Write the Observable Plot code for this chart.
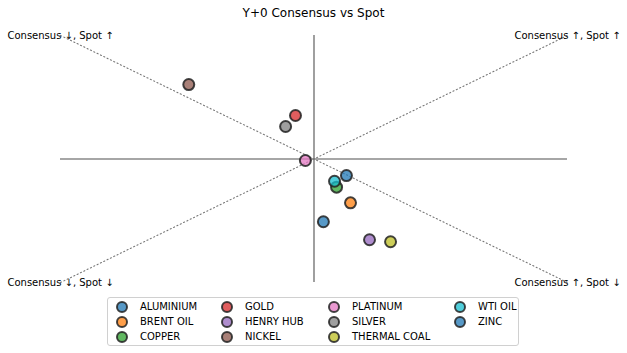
<!DOCTYPE html>
<html>
<head>
<meta charset="utf-8">
<script src="https://cdn.jsdelivr.net/npm/d3@7"></script>
<script src="https://cdn.jsdelivr.net/npm/@observablehq/plot@0.6"></script>
<style>
  html, body { margin: 0; padding: 0; background: #fff; }
  body { font-family: "DejaVu Sans", sans-serif; }
  #wrap { position: relative; width: 627px; height: 353px; overflow: hidden; }
  #title { position: absolute; left: 0; top: 6px; width: 627px; text-align: center; font-size: 12px; color: #000; }
  #chart { position: absolute; left: 0; top: 0; }
  #legend { position: absolute; left: 107px; top: 297px; width: 412px; height: 49px; border: 1px solid #d0d0d0; border-radius: 3px; background: rgba(255,255,255,0.8); box-sizing: border-box; }
  .item { position: absolute; font-size: 10px; color: #000; white-space: nowrap; line-height: 12px; }
  .item svg { position: absolute; left: -8px; top: -2px; }
  .item span { position: absolute; left: 18px; top: 0; }
</style>
</head>
<body>
<div id="wrap">
  <div id="chart"></div>
  <div id="title">Y+0 Consensus vs Spot</div>
  <div id="legend"></div>
</div>
<script>
// Data (x = consensus change, y = spot change, normalised to the plot limits)
const commodities = ["ALUMINIUM","BRENT OIL","COPPER","GOLD","HENRY HUB","NICKEL","PLATINUM","SILVER","THERMAL COAL","WTI OIL","ZINC"];
const consensus = [0.037, 0.144, 0.089, -0.073, 0.219, -0.494, -0.034, -0.112, 0.302, 0.081, 0.128];
const spot      = [-0.508, -0.355, -0.228, 0.352, -0.654, 0.603, -0.012, 0.263, -0.670, -0.180, -0.134];
const colors = ["#1f77b4","#ff7f0e","#2ca02c","#d62728","#9467bd","#8c564b","#e377c2","#7f7f7f","#bcbd22","#17becf","#1f77b4"];

const limit = 1;
const cornerX = [-limit, limit, -limit, limit];
const cornerY = [limit, limit, -limit, -limit];
const cornerLabels = ["Consensus ↓, Spot ↑", "Consensus ↑, Spot ↑", "Consensus ↓, Spot ↓", "Consensus ↑, Spot ↓"];

const points = commodities.map((name, i) => ({name, x: consensus[i], y: spot[i], color: colors[i]}));
const corners = cornerLabels.map((label, i) => ({label, x: cornerX[i], y: cornerY[i]}));
const diag1 = [{x: -limit, y: limit}, {x: limit, y: -limit}];
const diag2 = [{x: -limit, y: -limit}, {x: limit, y: limit}];

const plot = Plot.plot({
  width: 627,
  height: 353,
  marginLeft: 60,
  marginRight: 60,
  marginTop: 35,
  marginBottom: 71,
  x: {domain: [-limit, limit], axis: null},
  y: {domain: [-limit, limit], axis: null},
  style: {fontFamily: "DejaVu Sans, sans-serif", background: "transparent"},
  marks: [
    Plot.ruleY([0], {stroke: "#888", strokeWidth: 1.6}),
    Plot.ruleX([0], {stroke: "#888", strokeWidth: 1.6}),
    Plot.line(diag1, {x: "x", y: "y", stroke: "#777", strokeWidth: 1.1, strokeDasharray: "1.1,2.6"}),
    Plot.line(diag2, {x: "x", y: "y", stroke: "#777", strokeWidth: 1.1, strokeDasharray: "1.1,2.6"}),
    Plot.text(corners, {x: "x", y: "y", text: "label", fontSize: 10, fill: "#000", textAnchor: "middle"}),
    Plot.dot(points, {x: "x", y: "y", r: 5.5, fill: d => d.color, fillOpacity: 0.75, stroke: "#222", strokeOpacity: 0.85, strokeWidth: 2})
  ]
});
document.getElementById("chart").appendChild(plot);

// Legend (column-major, 3 rows)
const colX = [121, 226, 333, 459];
const rowY = [306, 321, 336];
const legend = document.getElementById("legend");
commodities.forEach((name, i) => {
  const col = Math.floor(i / 3), row = i % 3;
  const div = document.createElement("div");
  div.className = "item";
  div.style.left = (colX[col] - 107) + "px";
  div.style.top = (rowY[row] - 297 - 6) + "px";
  div.innerHTML = `<svg width="16" height="16"><circle cx="8" cy="8" r="5" fill="${colors[i]}" fill-opacity="0.75" stroke="#222" stroke-opacity="0.85" stroke-width="2"/></svg><span>${name}</span>`;
  legend.appendChild(div);
});
</script>
</body>
</html>
